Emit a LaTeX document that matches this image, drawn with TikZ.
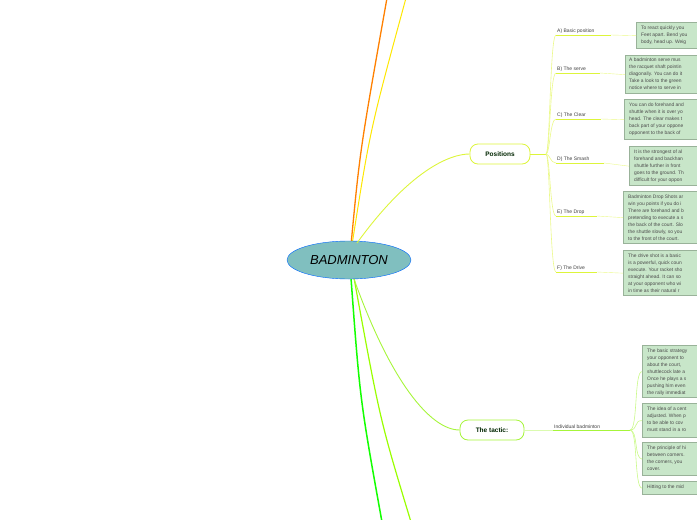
\documentclass[tikz,border=0pt]{standalone}
\usepackage{fontspec}
\setmainfont{Liberation Sans}
\usetikzlibrary{shapes.geometric}
\begin{document}
\begin{tikzpicture}[x=1pt,y=-1pt,
  boxst/.style={draw=black!75!green!40,line width=1.3pt,fill=boxfill},
  txt/.style={anchor=north west,align=left,inner sep=0pt,font=\fontsize{4.9}{6.9}\selectfont,text=black!70},
  lab/.style={anchor=south west,inner sep=1pt,font=\fontsize{5}{6}\selectfont,text=black!75},
  topic/.style={draw,rounded corners=8pt,fill=white,line width=0.8pt,minimum width=60pt,minimum height=20pt,font=\bfseries\fontsize{6.5}{8}\selectfont,text=black!75!green!60!black}]
\definecolor{boxfill}{HTML}{C8E6C9}
\definecolor{ylg}{HTML}{DDF53A}
\definecolor{lg}{HTML}{A6F53A}
\useasboundingbox (0,0) rectangle (697,520);
\clip (0,0) rectangle (697,520);
% main branches
\coordinate (o1) at (387,-2);
\coordinate (o2) at (406,-2);
\coordinate (g1) at (382,522);
\coordinate (g2) at (411,522);
\draw[orange,line width=1.3pt] (351,245) .. controls (360,150) .. (o1);
\draw[yellow!90!orange,line width=1pt] (352,245) .. controls (370,130) .. (o2);
\draw[green!90!lime,line width=1.5pt] (351,278) .. controls (360,400) .. (g1);
\draw[lime!80!green,line width=1.2pt] (354,278) .. controls (380,420) .. (g2);
\node[draw=blue!60!cyan,fill=teal!50!white,ellipse,minimum width=124pt,minimum height=38pt,inner sep=0pt] (root) at (349,260) {};
\node[font=\itshape\fontsize{13}{14}\selectfont] at (root) {BADMINTON};
% Positions
\node[topic,draw=ylg] (pos) at (500,154) {Positions};
\draw[ylg,line width=0.9pt] (357,243) .. controls (410,170) and (450,154) .. (pos.west);
\node[topic,draw=lg,minimum width=64pt] (tac) at (492,430) {The tactic:};
\draw[lg,line width=0.9pt] (354,279) .. controls (390,380) and (430,430) .. (tac.west);
% sub labels positions
\coordinate (pj) at (546,154);
\draw[ylg,line width=0.9pt] (pos.east) -- (pj);
\foreach \n/\y/\t/\e in {a/35/A) Basic position/611, b/73/B) The serve/600, c/119/C) The Clear/601, d/163/D) The Smash/604, e/216/E) The Drop/597, f/272/F) The Drive/597}{
  \coordinate (\n s) at (556,\y);
  \coordinate (\n e) at (\e,\y);
  \draw[ylg!60,line width=0.6pt] (pj) .. controls (550,154) and (550,\y) .. (\n s);
  \draw[ylg,line width=0.9pt] (\n s) -- (\n e);
  \node[lab] at (\n s) {\t};
}
% boxes
\node[boxst,minimum width=80pt,minimum height=26pt,anchor=north west] (ba) at (636,22) {};
\node[txt] at (641,26) {To react quickly you\\Feet apart. Bend you\\body, head up. Weig};
\draw[ylg!60] (ae) -- (ba.west);
\node[boxst,minimum width=90pt,minimum height=38pt,anchor=north west] (bb) at (625,55) {};
\node[txt] at (629,58) {A  badminton serve mus\\the racquet shaft pointin\\diagonally. You can do it\\Take a look to the green\\notice where to serve in};
\draw[ylg!60] (be) -- (bb.west);
\node[boxst,minimum width=90pt,minimum height=40pt,anchor=north west] (bc) at (624,99) {};
\node[txt] at (629,103) {You can do forehand and\\shuttle when it is over yo\\ head. The clear makes t\\back part of your oppone\\opponent to the back of};
\draw[ylg!60] (ce) -- (bc.west);
\node[boxst,minimum width=90pt,minimum height=39pt,anchor=north west] (bd) at (629,146) {};
\node[txt] at (634,150) {It is the strongest of al\\ forehand and backhan\\shuttle further in front\\goes to the ground. Th\\difficult for your oppon};
\draw[ylg!60] (de) -- (bd.west);
\node[boxst,minimum width=90pt,minimum height=52pt,anchor=north west] (be2) at (623,191) {};
\node[txt] at (628,195) {Badminton Drop Shots ar\\win you points if you do i\\There are forehand and b\\pretending to execute a s\\the back of the court. Slo\\the shuttle slowly, so you\\to the front of the court.};
\draw[ylg!60] (ee) -- (be2.west);
\node[boxst,minimum width=90pt,minimum height=45pt,anchor=north west] (bf) at (623,250) {};
\node[txt] at (628,254) {The drive shot is a basic\\is a powerful, quick coun\\execute. Your racket sho\\straight ahead. It can so\\at your opponent who wi\\in time as their natural r};
\draw[ylg!60] (fe) -- (bf.west);
% tactic
\coordinate (ts) at (553,430);
\coordinate (tj) at (630,430);
\draw[lg!40,line width=0.9pt] (tac.east) -- (ts);
\draw[lg,line width=0.9pt] (ts) -- (tj);
\node[lab] at (ts) {Individual badminton};
\node[boxst,minimum width=80pt,minimum height=52pt,anchor=north west] (t1) at (642,345) {};
\node[txt] at (647,349) {The basic strategy\\your opponent to\\ about the court,\\shuttlecock late a\\Once he plays a s\\pushing him even\\the rally immediat};
\node[boxst,minimum width=80pt,minimum height=34pt,anchor=north west] (t2) at (642,403) {};
\node[txt] at (647,407) {The idea of a cent\\adjusted. When p\\ to be able to cov\\must stand in a ro};
\node[boxst,minimum width=80pt,minimum height=33pt,anchor=north west] (t3) at (642,442) {};
\node[txt] at (647,446) {The principle of hi\\between corners.\\ the corners, you\\cover.};
\node[boxst,minimum width=80pt,minimum height=13pt,anchor=north west] (t4) at (642,481) {};
\node[txt] at (647,485) {Hitting to the mid};
\foreach \b/\y in {t1/371,t2/420,t3/458.5,t4/487.5}{
  \draw[lg!60,line width=0.6pt] (tj) .. controls (638,430) and (634,\y) .. (\b.west);
}
\end{tikzpicture}
\end{document}
